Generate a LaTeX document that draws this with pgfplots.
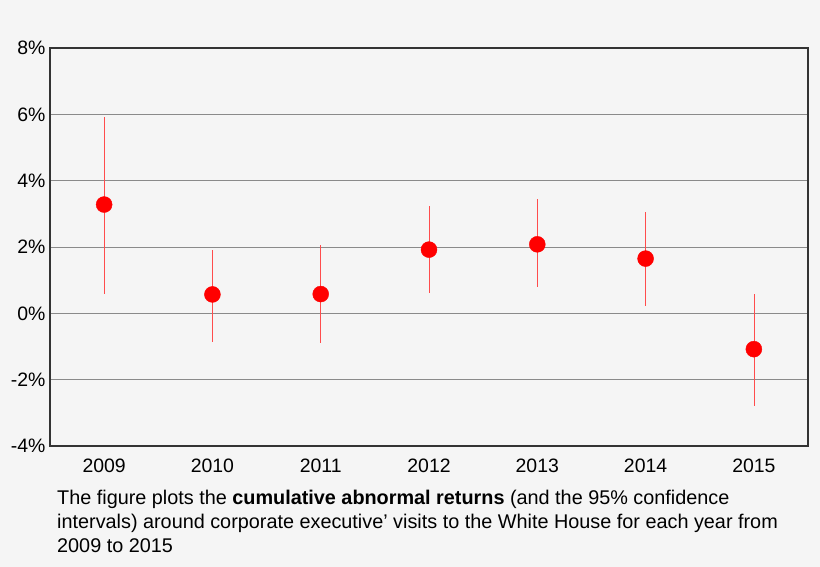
\documentclass[border=0pt]{standalone}
\usepackage{fontspec}
\setmainfont{Liberation Sans}
\usepackage{pgfplots}
\pgfplotsset{compat=1.18}
\definecolor{bgcol}{HTML}{F5F5F5}
\definecolor{gridcol}{HTML}{8A8A8A}

% year, return (%), upper and lower 95% CI distances
\pgfplotstableread{
x   y      ep    em
0   3.28   2.65  2.71
1   0.57   1.33  1.44
2   0.58   1.48  1.47
3   1.92   1.32  1.32
4   2.08   1.36  1.28
5   1.65   1.40  1.43
6  -1.08   1.65  1.72
}\car

\begin{document}
\begin{tikzpicture}[x=1bp,y=1bp]
  \fill[bgcol] (-50,-121) rectangle (770,446);
  \begin{axis}[
      at={(0,0)}, anchor=south west,
      scale only axis,
      width=758bp, height=398bp,
      xmin=-0.5, xmax=6.5,
      ymin=-4, ymax=8,
      xtick={0,...,6},
      xticklabels={2009,2010,2011,2012,2013,2014,2015},
      ytick={-4,-2,...,8},
      yticklabels={-4\%,-2\%,0\%,2\%,4\%,6\%,8\%},
      major tick length=0pt,
      ymajorgrids=true,
      grid style={gridcol, line width=0.9bp},
      axis line style={black!80, line width=1.1bp},
      ticklabel style={font=\fontsize{19.5}{22}\selectfont},
      yticklabel style={xshift=-1bp},
      xticklabel style={yshift=-9bp},
      axis background/.style={fill=bgcol},
      clip=false,
    ]
    \addplot[
        only marks,
        mark=*,
        mark size=8bp,
        mark options={fill=red, draw=red},
        error bars/.cd,
          y dir=both, y explicit,
          error mark=none,
          error bar style={red!70, line width=0.7bp},
      ] table[x=x, y=y, y error plus=ep, y error minus=em] {\car};
  \end{axis}
  \node[anchor=north west, align=left, inner sep=0pt,
        font=\fontsize{19.9}{24}\selectfont]
    at (7,-44) {The figure plots the \textbf{cumulative abnormal returns} (and the 95\% confidence\\
    intervals) around corporate executive’ visits to the White House for each year from\\
    2009 to 2015};
\end{tikzpicture}
\end{document}
